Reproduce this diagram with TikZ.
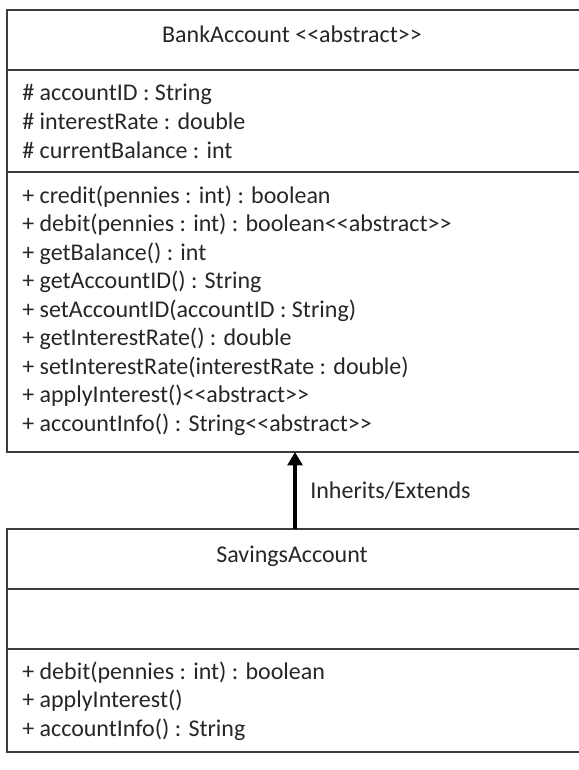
\documentclass[tikz,border=0pt]{standalone}
\usepackage{fontspec}
\setmainfont[Ligatures=TeXOff]{Carlito}
\usepackage{tikz}
\usepackage{xcolor}
\usetikzlibrary{
    arrows.meta,
    calc,
    positioning
}
\definecolor{umlline}{HTML}{3C3C3C}
\definecolor{umltext}{HTML}{262626}

\begin{document}
\begin{tikzpicture}[x=0.75pt, y=-0.75pt,
    member/.style={anchor=west, inner sep=0pt, text=umltext, text height=0.72em, text depth=0.22em},
    title/.style={anchor=center, inner sep=0pt, text=umltext},
    frame/.style={draw=umlline, line width=1.4pt},
    divider/.style={draw=umlline, line width=1.1pt},
    inharrow/.style={line width=3pt, -{Triangle[length=10pt, width=11pt]}}]
                                \useasboundingbox (0, 0) rectangle (578, 770);
                                \fontsize{18}{21}\selectfont
                                % BankAccount
                                \draw[frame] (7, 10) rectangle (582, 452);
                                \draw[divider] (7, 70) -- (582, 70);
                                \draw[divider] (7, 172) -- (582, 172);
                                \node[title] (bankname) at (292, 34) {BankAccount <<abstract>>};
                                \node[member] (accid) at (22, 95) {\# accountID : String};
                                \node[member] (rate) at (22, 123.5) {\# interestRate : double};
                                \node[member] (balance) at (22, 152) {\# currentBalance : int};
                                \node[member] (credit) at (22, 197) {+ credit(pennies : int) : boolean};
                                \node[member] (debit) at (22, 225.5) {+ debit(pennies : int) : boolean<<abstract>>};
                                \node[member] (getbal) at (22, 254) {+ getBalance() : int};
                                \node[member] (getid) at (22, 282.5) {+ getAccountID() : String};
                                \node[member] (setid) at (22, 311) {+ setAccountID(accountID : String)};
                                \node[member] (getrate) at (22, 339.5) {+ getInterestRate() : double};
                                \node[member] (setrate) at (22, 368) {+ setInterestRate(interestRate : double)};
                                \node[member] (apply) at (22, 396.5) {+ applyInterest()<<abstract>>};
                                \node[member] (info) at (22, 425) {+ accountInfo() : String<<abstract>>};
                                % SavingsAccount
                                \draw[frame] (7, 529) rectangle (582, 752);
                                \draw[divider] (7, 589) -- (582, 589);
                                \draw[divider] (7, 649) -- (582, 649);
                                \node[title] (savname) at (292, 556) {SavingsAccount};
                                \node[member] (sdebit) at (22, 673) {+ debit(pennies : int) : boolean};
                                \node[member] (sapply) at (22, 701.5) {+ applyInterest()};
                                \node[member] (sinfo) at (22, 730) {+ accountInfo() : String};
                                % inheritance
                                \coordinate (bankbot) at (295, 452);
                                \coordinate (savtop) at (295, 529);
                                \draw[inharrow] (savtop) -- node[right=10pt, inner sep=0pt, text=umltext] (inh) {Inherits/Extends} (bankbot);
                            \end{tikzpicture}
\end{document}
